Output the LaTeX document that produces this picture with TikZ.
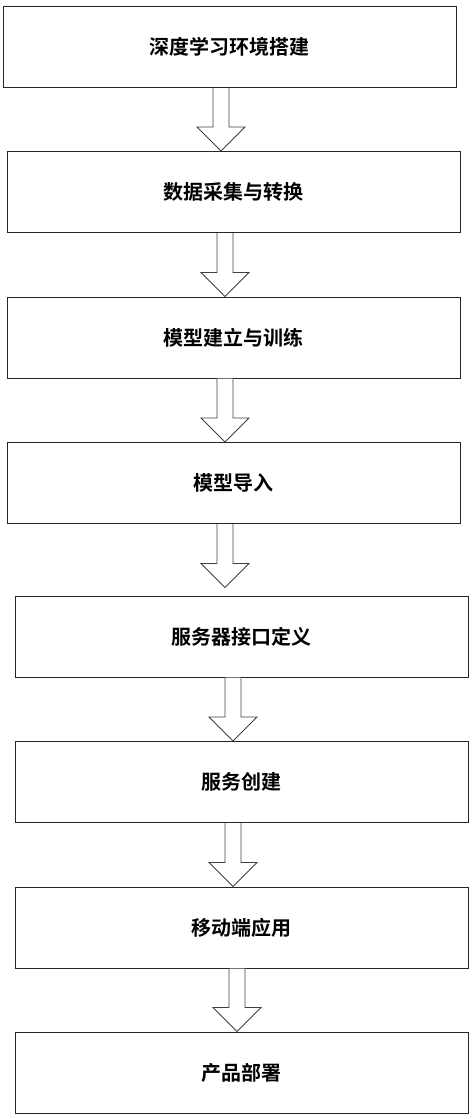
\documentclass[tikz,border=0pt]{standalone}
\usepackage{fontspec}
\newfontfamily\cjk{Noto Sans CJK SC}[BoldFont={* Bold}]
\usetikzlibrary{calc}

\tikzset{
  stepbox/.style={draw=black!85, line width=1pt, fill=white, inner sep=0pt,
    minimum width=453pt, minimum height=81pt,
    font=\cjk\bfseries\fontsize{20}{24}\selectfont},
  hollow/.style={draw=black!75, line width=0.8pt, fill=white}
}

\begin{document}
\begin{tikzpicture}[x=1pt,y=-1pt]
\useasboundingbox (0,0) rectangle (474,1119);

\node[stepbox] (env) at (229.5,47) {深度学习环境搭建};
\node[stepbox] (data) at (233.5,192) {数据采集与转换};
\node[stepbox] (train) at (233.5,337.5) {模型建立与训练};
\node[stepbox] (load) at (233.5,483) {模型导入};
\node[stepbox] (api) at (241.5,636.5) {服务器接口定义};
\node[stepbox] (service) at (241.5,782) {服务创建};
\node[stepbox] (mobile) at (241.5,927.5) {移动端应用};
\node[stepbox] (deploy) at (241.5,1072.5) {产品部署};

\foreach \a/\b/\cx/\gap in {env/data/221/0, data/train/225/0, train/load/225/0,
  load/api/225/8, api/service/233/0, service/mobile/233/0, mobile/deploy/237/0}
\draw[hollow] let \p1=(\a.south), \p2=(\b.north) in
  (\cx*1pt-8pt,\y1) -- (\cx*1pt-8pt,\y2+\gap*1pt+24pt) -- (\cx*1pt-24pt,\y2+\gap*1pt+24pt)
  -- (\cx*1pt,\y2+\gap*1pt) -- (\cx*1pt+24pt,\y2+\gap*1pt+24pt)
  -- (\cx*1pt+8pt,\y2+\gap*1pt+24pt) -- (\cx*1pt+8pt,\y1);

\end{tikzpicture}
\end{document}
